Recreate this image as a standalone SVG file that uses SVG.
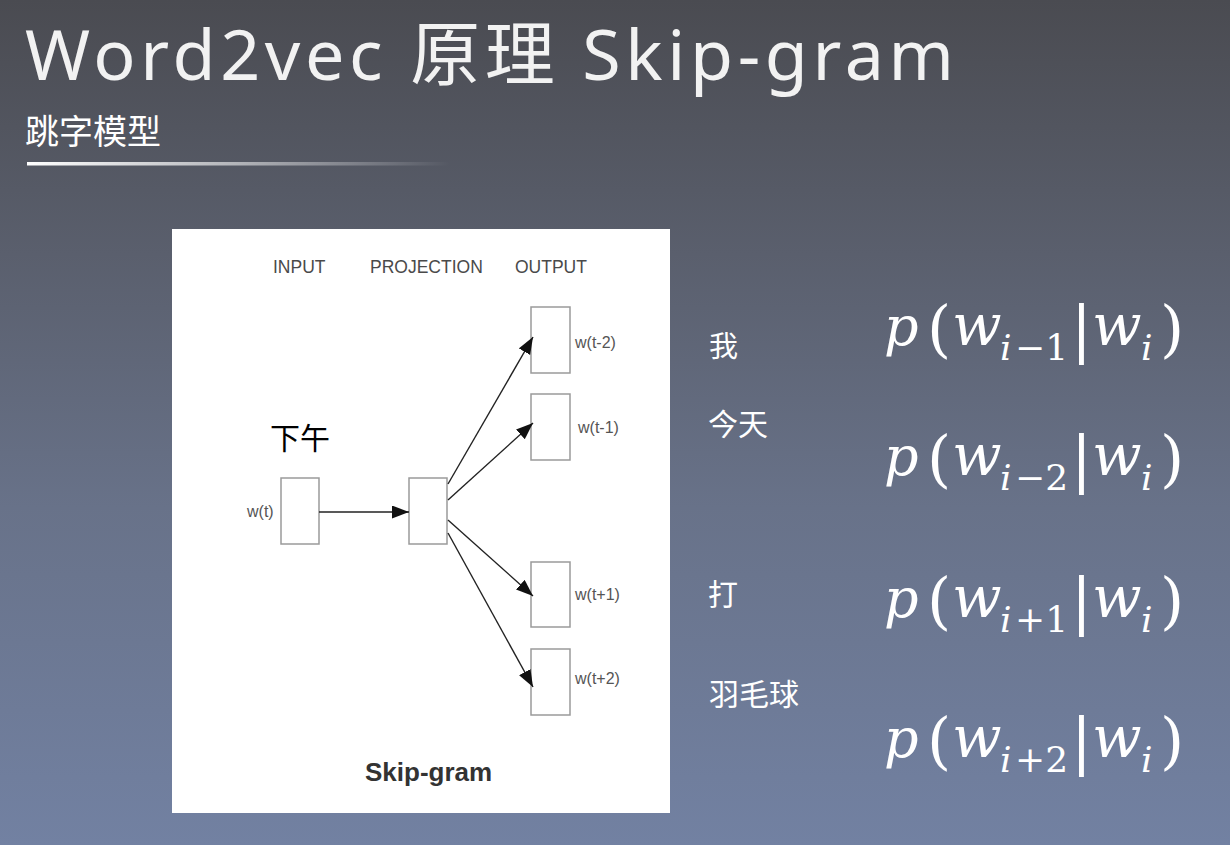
<svg xmlns="http://www.w3.org/2000/svg" width="1230" height="845" viewBox="0 0 1230 845">
<defs>
<linearGradient id="bg" x1="0" y1="0" x2="0" y2="1">
<stop offset="0" stop-color="#4a4b51"/>
<stop offset="0.3" stop-color="#5a5f6d"/>
<stop offset="0.6" stop-color="#687289"/>
<stop offset="1" stop-color="#7281a2"/>
</linearGradient>
<linearGradient id="ul" x1="0" y1="0" x2="1" y2="0">
<stop offset="0" stop-color="#ffffff" stop-opacity="1"/>
<stop offset="0.5" stop-color="#ffffff" stop-opacity="0.55"/>
<stop offset="1" stop-color="#ffffff" stop-opacity="0"/>
</linearGradient>
<marker id="ah" markerUnits="userSpaceOnUse" markerWidth="18" markerHeight="14" refX="17" refY="6.5" orient="auto">
<path d="M0,0 L17,6.5 L0,13 z" fill="#111"/>
</marker>
<style>
.title{font-family:"Noto Sans","Noto Sans CJK SC",sans-serif;fill:#f2f2f2}
.cn{font-family:"Noto Sans CJK SC","Noto Sans",sans-serif;fill:#ffffff}
.hdr{font-family:"Liberation Sans",Arial,sans-serif;font-size:17.5px;fill:#4a4a4a}
.lbl{font-family:"Liberation Sans",Arial,sans-serif;font-size:16px;fill:#555}
.box{fill:#fff;stroke:#9a9a9a;stroke-width:1.5}
.conn line{stroke:#222;stroke-width:1.4;marker-end:url(#ah)}
.f{font-family:"DejaVu Serif",serif;fill:#ffffff}
.it{font-style:italic}
</style>
</defs>
<rect x="0" y="0" width="1230" height="845" fill="url(#bg)"/>
<text class="title" x="25" y="80" font-size="70" textLength="929" lengthAdjust="spacing">Word2vec 原理 Skip-gram</text>
<text class="cn" x="25" y="144" font-size="34" fill="#f2f2f2">跳字模型</text>
<rect x="27" y="162" width="423" height="3.5" fill="url(#ul)"/>

<g id="panel">
<rect x="172" y="229" width="498" height="584" fill="#ffffff"/>
<text class="hdr" x="273" y="273">INPUT</text>
<text class="hdr" x="370" y="273">PROJECTION</text>
<text class="hdr" x="515" y="273">OUTPUT</text>
<text x="365" y="781" font-family="'Liberation Sans',Arial,sans-serif" font-size="26" font-weight="bold" fill="#333">Skip-gram</text>
</g>

<g id="input">
<rect class="box" x="281" y="478" width="38" height="66"/>
<text class="lbl" x="247" y="517">w(t)</text>
<text x="270" y="449" font-family="'Noto Sans CJK SC',sans-serif" font-size="30" fill="#000">下午</text>
</g>
<g id="projection">
<rect class="box" x="409" y="478" width="38" height="66"/>
</g>
<g id="out-t-2">
<rect class="box" x="531" y="307" width="39" height="66"/>
<text class="lbl" x="575" y="348">w(t-2)</text>
</g>
<g id="out-t-1">
<rect class="box" x="531" y="394" width="39" height="66"/>
<text class="lbl" x="578" y="433">w(t-1)</text>
</g>
<g id="out-t1">
<rect class="box" x="531" y="562" width="39" height="65"/>
<text class="lbl" x="575" y="600">w(t+1)</text>
</g>
<g id="out-t2">
<rect class="box" x="531" y="649" width="39" height="66"/>
<text class="lbl" x="575" y="684">w(t+2)</text>
</g>

<g class="conn" id="connectors">
<line x1="319" y1="512" x2="409" y2="512"/>
<line x1="448" y1="484" x2="533" y2="337"/>
<line x1="448" y1="500" x2="533" y2="423"/>
<line x1="448" y1="520" x2="533" y2="596"/>
<line x1="448" y1="533" x2="533" y2="687"/>
</g>

<g id="words">
<text class="cn" x="709" y="357" font-size="29">我</text>
<text class="cn" x="708" y="435" font-size="30">今天</text>
<text class="cn" x="708" y="605" font-size="30">打</text>
<text class="cn" x="709" y="705" font-size="30">羽毛球</text>
</g>

<g id="formula1">
<text class="f"><tspan class="it" x="884" y="345" font-size="54">p</tspan><tspan x="927" y="350" font-size="62">(</tspan><tspan class="it" x="952" y="345" font-size="58">w</tspan><tspan class="it" x="1000" y="360" font-size="36">i</tspan><tspan x="1015" y="360" font-size="36">−1</tspan><tspan x="1071" y="350" font-size="62">|</tspan><tspan class="it" x="1092" y="345" font-size="58">w</tspan><tspan class="it" x="1141" y="360" font-size="36">i</tspan><tspan x="1160" y="350" font-size="62">)</tspan></text>
</g>
<g id="formula2">
<text class="f"><tspan class="it" x="884" y="475" font-size="54">p</tspan><tspan x="927" y="480" font-size="62">(</tspan><tspan class="it" x="952" y="475" font-size="58">w</tspan><tspan class="it" x="1000" y="490" font-size="36">i</tspan><tspan x="1015" y="490" font-size="36">−2</tspan><tspan x="1071" y="480" font-size="62">|</tspan><tspan class="it" x="1092" y="475" font-size="58">w</tspan><tspan class="it" x="1141" y="490" font-size="36">i</tspan><tspan x="1160" y="480" font-size="62">)</tspan></text>
</g>
<g id="formula3">
<text class="f"><tspan class="it" x="884" y="617" font-size="54">p</tspan><tspan x="927" y="622" font-size="62">(</tspan><tspan class="it" x="952" y="617" font-size="58">w</tspan><tspan class="it" x="1000" y="632" font-size="36">i</tspan><tspan x="1015" y="632" font-size="36">+1</tspan><tspan x="1071" y="622" font-size="62">|</tspan><tspan class="it" x="1092" y="617" font-size="58">w</tspan><tspan class="it" x="1141" y="632" font-size="36">i</tspan><tspan x="1160" y="622" font-size="62">)</tspan></text>
</g>
<g id="formula4">
<text class="f"><tspan class="it" x="884" y="757" font-size="54">p</tspan><tspan x="927" y="762" font-size="62">(</tspan><tspan class="it" x="952" y="757" font-size="58">w</tspan><tspan class="it" x="1000" y="772" font-size="36">i</tspan><tspan x="1015" y="772" font-size="36">+2</tspan><tspan x="1071" y="762" font-size="62">|</tspan><tspan class="it" x="1092" y="757" font-size="58">w</tspan><tspan class="it" x="1141" y="772" font-size="36">i</tspan><tspan x="1160" y="762" font-size="62">)</tspan></text>
</g>
</svg>
